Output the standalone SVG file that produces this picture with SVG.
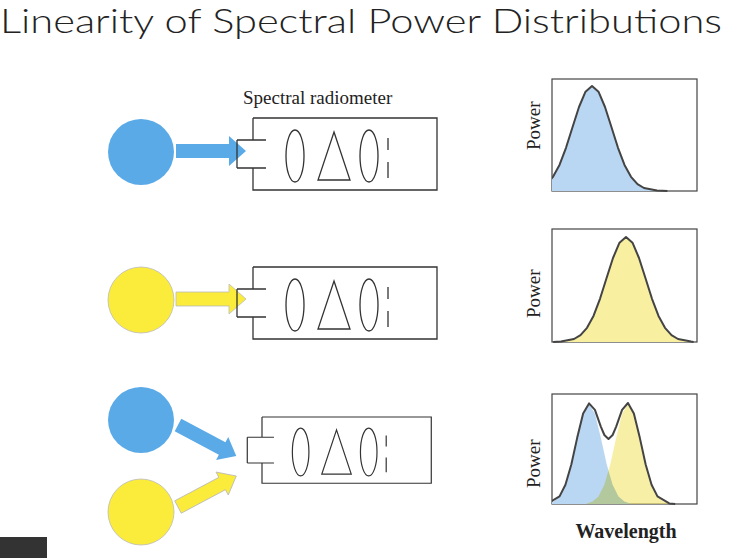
<svg xmlns="http://www.w3.org/2000/svg" width="744" height="558" viewBox="0 0 744 558">
<style>
.ln{fill:none;stroke:#333;stroke-width:1.3}
.ax{fill:#fff;stroke:#444;stroke-width:1.2}
.cv{fill:none;stroke:#444;stroke-width:2;stroke-linejoin:round;vector-effect:non-scaling-stroke}
.lab{font-family:"Liberation Serif",serif;fill:#222}
</style>
<defs>
<g id="rad">
<path class="ln" d="M0,0 H184 V72 H0 V50 M0,22 V0 M-16,22 H13 M-16,50 H13 M-16,22 V50"/>
<ellipse class="ln" cx="42" cy="38" rx="9" ry="26"/>
<path class="ln" d="M81,14 L97,62 H65 Z"/>
<ellipse class="ln" cx="116" cy="38" rx="9" ry="26"/>
<path class="ln" d="M135,20 V32 M135,44 V60"/>
</g>
<clipPath id="c1"><rect x="552" y="79" width="145" height="113"/></clipPath>
<clipPath id="c2"><rect x="552" y="229" width="145" height="114"/></clipPath>
<clipPath id="c3"><rect x="552" y="394" width="145" height="111"/></clipPath>
</defs>
<rect width="744" height="558" fill="#fff"/>
<text x="0" y="33" font-family="Lato,'Liberation Sans',sans-serif" font-weight="300" font-size="34" fill="#222" textLength="722" lengthAdjust="spacingAndGlyphs">Linearity of Spectral Power Distributions</text>
<text class="lab" x="243" y="104" font-size="19">Spectral radiometer</text>
<g id="row1">
<circle cx="141" cy="152" r="33" fill="#5aaae8"/>
<path d="M176,144 H229 V136 L246,151 L229,166 V158 H176 Z" fill="#5aaae8"/>
<use href="#rad" x="253" y="118"/>
</g>
<g id="row2">
<circle cx="141" cy="300" r="33" fill="#fbeb3b" stroke="#bbb" stroke-width="0.8"/>
<path d="M176,292 H229 V284 L246,299 L229,314 V306 H176 Z" fill="#fbeb3b" stroke="#bbb" stroke-width="0.8"/>
<use href="#rad" x="253" y="267"/>
</g>
<g id="row3">
<circle cx="141" cy="420" r="33" fill="#5aaae8"/>
<circle cx="141" cy="512" r="33" fill="#fbeb3b" stroke="#bbb" stroke-width="0.8"/>
<g id="connectors">
<path d="M0,-7 H50 V-13 L66,0 L50,13 V7 H0 Z" fill="#5aaae8" transform="translate(178,425) rotate(28)"/>
<path d="M0,-7 H50 V-13 L66,0 L50,13 V7 H0 Z" fill="#fbeb3b" stroke="#bbb" stroke-width="0.8" transform="translate(178,507) rotate(-28)"/>
</g>
<use href="#rad" transform="translate(262,417) scale(0.92)"/>
</g>
<g id="plot1">
<rect class="ax" x="552" y="79" width="145" height="112"/>
<g clip-path="url(#c1)"><g transform="translate(592,0) scale(1.3,1) translate(-602,0)">
<path d="M552,191 L552,190.6 562,188 567,184.1 572,176.8 577,164.9 582,147.8 587,127.3 592,107 597,91.7 602,86 L602,86 607,91.7 612,107 617,127.3 622,147.8 627,164.9 632,176.8 637,184.1 642,188 652,190.6 652,191 Z" fill="#b9d6f2"/>
<polyline class="cv" points="546,191 552,190.6 562,188 567,184.1 572,176.8 577,164.9 582,147.8 587,127.3 592,107 597,91.7 602,86 607,91.7 612,107 617,127.3 622,147.8 627,164.9 632,176.8 637,184.1 642,188 652,190.6 660,191"/>
</g></g>
<text class="lab" transform="translate(540,150) rotate(-90)" font-size="19">Power</text>
</g>
<g id="plot2">
<rect class="ax" x="552" y="229" width="145" height="113"/>
<g clip-path="url(#c2)"><g transform="translate(626,0) scale(1.3,1) translate(-636,0)">
<path d="M586,342 L586,341.6 596,339 601,335.1 606,327.8 611,315.9 616,298.8 621,278.3 626,258 631,242.7 636,237 641,242.7 646,258 651,278.3 656,298.8 661,315.9 666,327.8 671,335.1 676,339 686,341.6 686,342 Z" fill="#f8f0a0"/>
<polyline class="cv" points="580,342 586,341.6 596,339 601,335.1 606,327.8 611,315.9 616,298.8 621,278.3 626,258 631,242.7 636,237 641,242.7 646,258 651,278.3 656,298.8 661,315.9 666,327.8 671,335.1 676,339 686,341.6 688,342"/>
</g></g>
<text class="lab" transform="translate(540,318) rotate(-90)" font-size="19">Power</text>
</g>
<g id="plot3">
<rect class="ax" x="552" y="394" width="145" height="110"/>
<g clip-path="url(#c3)"><g transform="translate(608.5,0) scale(1.18,1) translate(-608.5,0)">
<path d="M557,504 L557,503.4 562,501.6 567,496.4 572,484.8 577,464.5 582,437.8 587,413.8 592,404 597,413.8 602,437.8 607,464.5 612,484.8 617,496.4 622,501.6 627,503.4 627,504 Z" fill="#b9d6f2"/>
<path d="M590,504 L590,503.4 595,501.6 600,496.4 605,484.8 610,464.5 615,437.8 620,413.8 625,404 630,413.8 635,437.8 640,464.5 645,484.8 650,496.4 655,501.6 660,503.4 660,504 Z" fill="#f3e56a" fill-opacity="0.6" style="mix-blend-mode:multiply"/>
<polyline class="cv" points="552,504 557,503.4 567,496.4 572,484.8 577,464.5 582,437.6 587,413.4 592,403.4 597,409.9 602,426.6 605,435 608.5,439 612,435 615,426.6 620,409.9 625,403 630,413.4 635,437.6 640,464.5 645,484.8 650,496.4 660,503.4 665,504"/>
</g></g>
<text class="lab" transform="translate(540,488) rotate(-90)" font-size="19">Power</text>
<text class="lab" x="626" y="538" font-size="20" font-weight="bold" text-anchor="middle" fill="#333">Wavelength</text>
</g>
<rect x="0" y="537" width="47" height="21" fill="#333"/>
</svg>
